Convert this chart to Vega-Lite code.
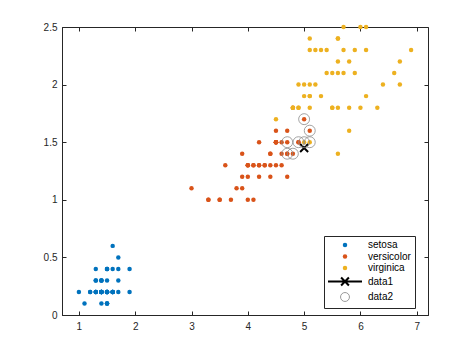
{
  "$schema": "https://vega.github.io/schema/vega-lite/v6.json",
  "autosize": "none",
  "width": 366,
  "height": 288,
  "padding": {"left": 62, "top": 27, "right": 46, "bottom": 40},
  "background": "white",
  "config": {
    "view": {"stroke": "#262626", "strokeWidth": 1},
    "font": "Liberation Sans",
    "axis": {
      "domainColor": "#262626", "tickColor": "#262626", "labelColor": "#262626",
      "labelFontSize": 10, "labelFont": "Liberation Sans", "grid": false,
      "tickSize": -4, "title": null
    },
    "legend": {
      "title": null, "orient": "none", "legendX": 262, "legendY": 209,
      "padding": 4, "strokeColor": "#262626", "fillColor": "white",
      "labelFontSize": 10, "labelFont": "Liberation Sans", "labelColor": "#000000",
      "symbolSize": 20, "symbolOffset": 12, "labelOffset": 18, "rowPadding": 1.5,
      "symbolStrokeWidth": 1, "symbolOpacity": 1
    }
  },
  "datasets": {
    "iris": [
      {"pl":1.4,"pw":0.2,"g":"setosa"},{"pl":1.4,"pw":0.2,"g":"setosa"},{"pl":1.3,"pw":0.2,"g":"setosa"},{"pl":1.5,"pw":0.2,"g":"setosa"},{"pl":1.4,"pw":0.2,"g":"setosa"},
      {"pl":1.7,"pw":0.4,"g":"setosa"},{"pl":1.4,"pw":0.3,"g":"setosa"},{"pl":1.5,"pw":0.2,"g":"setosa"},{"pl":1.4,"pw":0.2,"g":"setosa"},{"pl":1.5,"pw":0.1,"g":"setosa"},
      {"pl":1.5,"pw":0.2,"g":"setosa"},{"pl":1.6,"pw":0.2,"g":"setosa"},{"pl":1.4,"pw":0.1,"g":"setosa"},{"pl":1.1,"pw":0.1,"g":"setosa"},{"pl":1.2,"pw":0.2,"g":"setosa"},
      {"pl":1.5,"pw":0.4,"g":"setosa"},{"pl":1.3,"pw":0.4,"g":"setosa"},{"pl":1.4,"pw":0.3,"g":"setosa"},{"pl":1.7,"pw":0.3,"g":"setosa"},{"pl":1.5,"pw":0.3,"g":"setosa"},
      {"pl":1.7,"pw":0.2,"g":"setosa"},{"pl":1.5,"pw":0.4,"g":"setosa"},{"pl":1.0,"pw":0.2,"g":"setosa"},{"pl":1.7,"pw":0.5,"g":"setosa"},{"pl":1.9,"pw":0.2,"g":"setosa"},
      {"pl":1.6,"pw":0.2,"g":"setosa"},{"pl":1.6,"pw":0.4,"g":"setosa"},{"pl":1.5,"pw":0.2,"g":"setosa"},{"pl":1.4,"pw":0.2,"g":"setosa"},{"pl":1.6,"pw":0.2,"g":"setosa"},
      {"pl":1.6,"pw":0.2,"g":"setosa"},{"pl":1.5,"pw":0.4,"g":"setosa"},{"pl":1.5,"pw":0.1,"g":"setosa"},{"pl":1.4,"pw":0.2,"g":"setosa"},{"pl":1.5,"pw":0.2,"g":"setosa"},
      {"pl":1.2,"pw":0.2,"g":"setosa"},{"pl":1.3,"pw":0.2,"g":"setosa"},{"pl":1.5,"pw":0.1,"g":"setosa"},{"pl":1.3,"pw":0.2,"g":"setosa"},{"pl":1.5,"pw":0.2,"g":"setosa"},
      {"pl":1.3,"pw":0.3,"g":"setosa"},{"pl":1.3,"pw":0.3,"g":"setosa"},{"pl":1.3,"pw":0.2,"g":"setosa"},{"pl":1.6,"pw":0.6,"g":"setosa"},{"pl":1.9,"pw":0.4,"g":"setosa"},
      {"pl":1.4,"pw":0.3,"g":"setosa"},{"pl":1.6,"pw":0.2,"g":"setosa"},{"pl":1.4,"pw":0.2,"g":"setosa"},{"pl":1.5,"pw":0.2,"g":"setosa"},{"pl":1.4,"pw":0.2,"g":"setosa"},
      {"pl":4.7,"pw":1.4,"g":"versicolor"},{"pl":4.5,"pw":1.5,"g":"versicolor"},{"pl":4.9,"pw":1.5,"g":"versicolor"},{"pl":4.0,"pw":1.3,"g":"versicolor"},{"pl":4.6,"pw":1.5,"g":"versicolor"},
      {"pl":4.5,"pw":1.3,"g":"versicolor"},{"pl":4.7,"pw":1.6,"g":"versicolor"},{"pl":3.3,"pw":1.0,"g":"versicolor"},{"pl":4.6,"pw":1.3,"g":"versicolor"},{"pl":3.9,"pw":1.4,"g":"versicolor"},
      {"pl":3.5,"pw":1.0,"g":"versicolor"},{"pl":4.2,"pw":1.5,"g":"versicolor"},{"pl":4.0,"pw":1.0,"g":"versicolor"},{"pl":4.7,"pw":1.4,"g":"versicolor"},{"pl":3.6,"pw":1.3,"g":"versicolor"},
      {"pl":4.4,"pw":1.4,"g":"versicolor"},{"pl":4.5,"pw":1.5,"g":"versicolor"},{"pl":4.1,"pw":1.0,"g":"versicolor"},{"pl":4.5,"pw":1.5,"g":"versicolor"},{"pl":3.9,"pw":1.1,"g":"versicolor"},
      {"pl":4.8,"pw":1.8,"g":"versicolor"},{"pl":4.0,"pw":1.3,"g":"versicolor"},{"pl":4.9,"pw":1.5,"g":"versicolor"},{"pl":4.7,"pw":1.2,"g":"versicolor"},{"pl":4.3,"pw":1.3,"g":"versicolor"},
      {"pl":4.4,"pw":1.4,"g":"versicolor"},{"pl":4.8,"pw":1.4,"g":"versicolor"},{"pl":5.0,"pw":1.7,"g":"versicolor"},{"pl":4.5,"pw":1.5,"g":"versicolor"},{"pl":3.5,"pw":1.0,"g":"versicolor"},
      {"pl":3.8,"pw":1.1,"g":"versicolor"},{"pl":3.7,"pw":1.0,"g":"versicolor"},{"pl":3.9,"pw":1.2,"g":"versicolor"},{"pl":5.1,"pw":1.6,"g":"versicolor"},{"pl":4.5,"pw":1.5,"g":"versicolor"},
      {"pl":4.5,"pw":1.6,"g":"versicolor"},{"pl":4.7,"pw":1.5,"g":"versicolor"},{"pl":4.4,"pw":1.3,"g":"versicolor"},{"pl":4.1,"pw":1.3,"g":"versicolor"},{"pl":4.0,"pw":1.3,"g":"versicolor"},
      {"pl":4.4,"pw":1.2,"g":"versicolor"},{"pl":4.6,"pw":1.4,"g":"versicolor"},{"pl":4.0,"pw":1.2,"g":"versicolor"},{"pl":3.3,"pw":1.0,"g":"versicolor"},{"pl":4.2,"pw":1.3,"g":"versicolor"},
      {"pl":4.2,"pw":1.2,"g":"versicolor"},{"pl":4.2,"pw":1.3,"g":"versicolor"},{"pl":4.3,"pw":1.3,"g":"versicolor"},{"pl":3.0,"pw":1.1,"g":"versicolor"},{"pl":4.1,"pw":1.3,"g":"versicolor"},
      {"pl":6.0,"pw":2.5,"g":"virginica"},{"pl":5.1,"pw":1.9,"g":"virginica"},{"pl":5.9,"pw":2.1,"g":"virginica"},{"pl":5.6,"pw":1.8,"g":"virginica"},{"pl":5.8,"pw":2.2,"g":"virginica"},
      {"pl":6.6,"pw":2.1,"g":"virginica"},{"pl":4.5,"pw":1.7,"g":"virginica"},{"pl":6.3,"pw":1.8,"g":"virginica"},{"pl":5.8,"pw":1.8,"g":"virginica"},{"pl":6.1,"pw":2.5,"g":"virginica"},
      {"pl":5.1,"pw":2.0,"g":"virginica"},{"pl":5.3,"pw":1.9,"g":"virginica"},{"pl":5.5,"pw":2.1,"g":"virginica"},{"pl":5.0,"pw":2.0,"g":"virginica"},{"pl":5.1,"pw":2.4,"g":"virginica"},
      {"pl":5.3,"pw":2.3,"g":"virginica"},{"pl":5.5,"pw":1.8,"g":"virginica"},{"pl":6.7,"pw":2.2,"g":"virginica"},{"pl":6.9,"pw":2.3,"g":"virginica"},{"pl":5.0,"pw":1.5,"g":"virginica"},
      {"pl":5.7,"pw":2.3,"g":"virginica"},{"pl":4.9,"pw":2.0,"g":"virginica"},{"pl":6.7,"pw":2.0,"g":"virginica"},{"pl":4.9,"pw":1.8,"g":"virginica"},{"pl":5.7,"pw":2.1,"g":"virginica"},
      {"pl":6.0,"pw":1.8,"g":"virginica"},{"pl":4.8,"pw":1.8,"g":"virginica"},{"pl":4.9,"pw":1.8,"g":"virginica"},{"pl":5.6,"pw":2.1,"g":"virginica"},{"pl":5.8,"pw":1.6,"g":"virginica"},
      {"pl":6.1,"pw":1.9,"g":"virginica"},{"pl":6.4,"pw":2.0,"g":"virginica"},{"pl":5.6,"pw":2.2,"g":"virginica"},{"pl":5.1,"pw":1.5,"g":"virginica"},{"pl":5.6,"pw":1.4,"g":"virginica"},
      {"pl":6.1,"pw":2.3,"g":"virginica"},{"pl":5.6,"pw":2.4,"g":"virginica"},{"pl":5.5,"pw":1.8,"g":"virginica"},{"pl":4.8,"pw":1.8,"g":"virginica"},{"pl":5.4,"pw":2.1,"g":"virginica"},
      {"pl":5.6,"pw":2.4,"g":"virginica"},{"pl":5.1,"pw":2.3,"g":"virginica"},{"pl":5.1,"pw":1.9,"g":"virginica"},{"pl":5.9,"pw":2.3,"g":"virginica"},{"pl":5.7,"pw":2.5,"g":"virginica"},
      {"pl":5.2,"pw":2.3,"g":"virginica"},{"pl":5.0,"pw":1.9,"g":"virginica"},{"pl":5.2,"pw":2.0,"g":"virginica"},{"pl":5.4,"pw":2.3,"g":"virginica"},{"pl":5.1,"pw":1.8,"g":"virginica"}
    ],
    "query": [{"pl":5.0,"pw":1.45}],
    "nn": [
      {"pl":5.0,"pw":1.7},{"pl":5.1,"pw":1.6},{"pl":4.7,"pw":1.5},{"pl":4.9,"pw":1.5},{"pl":5.0,"pw":1.5},
      {"pl":5.1,"pw":1.5},{"pl":4.7,"pw":1.4},{"pl":4.8,"pw":1.4}
    ]
  },
  "resolve": {"axis": {"x": "independent", "y": "independent"}},
  "layer": [
    {
      "data": {"name": "iris"},
      "mark": {"type": "point", "filled": true, "size": 20, "opacity": 1, "strokeWidth": 1},
      "encoding": {
        "x": {"field": "pl", "type": "quantitative", "scale": {"domain": [0.7, 7.2], "nice": false, "zero": false},
              "axis": {"orient": "bottom", "values": [1,2,3,4,5,6,7], "labelPadding": 10}},
        "y": {"field": "pw", "type": "quantitative", "scale": {"domain": [0, 2.5], "nice": false, "zero": false},
              "axis": {"orient": "left", "values": [0,0.5,1,1.5,2,2.5], "format": ".1~f", "labelPadding": 9}},
        "fill": {
          "field": "g", "type": "nominal",
          "scale": {"domain": ["setosa","versicolor","virginica","data1","data2"],
                    "range": ["#0072BD","#D95319","#EDB120","#000000","transparent"]}
        },
        "stroke": {
          "field": "g", "type": "nominal",
          "scale": {"domain": ["setosa","versicolor","virginica","data1","data2"],
                    "range": ["transparent","transparent","transparent","transparent","#9a9a9a"]}
        },
        "shape": {
          "field": "g", "type": "nominal",
          "scale": {"domain": ["setosa","versicolor","virginica","data1","data2"],
                    "range": ["circle","circle","circle",
                              "M-7.6,-0.45H7.6V0.45H-7.6Z M-2.07,-1.43L-1.43,-2.07L2.07,1.43L1.43,2.07Z M-2.07,1.43L1.43,-2.07L2.07,-1.43L-1.43,2.07Z",
                              "M-2.0,0A2.0,2.0,0,1,1,2.0,0A2.0,2.0,0,1,1,-2.0,0Z"]}
        }
      }
    },
    {
      "data": {"name": "query"},
      "mark": {"type": "point", "filled": false, "shape": "M-1,-1L1,1M-1,1L1,-1", "size": 64, "stroke": "#000000", "strokeWidth": 2, "opacity": 1},
      "encoding": {
        "x": {"field": "pl", "type": "quantitative", "axis": {"orient": "top", "values": [1,2,3,4,5,6,7], "labels": false, "domain": false}},
        "y": {"field": "pw", "type": "quantitative", "axis": {"orient": "right", "values": [0,0.5,1,1.5,2,2.5], "labels": false, "domain": false}}
      }
    },
    {
      "data": {"name": "nn"},
      "mark": {"type": "point", "filled": false, "shape": "circle", "size": 120, "stroke": "#8c8c8c", "strokeWidth": 0.8, "opacity": 1},
      "encoding": {
        "x": {"field": "pl", "type": "quantitative", "axis": null},
        "y": {"field": "pw", "type": "quantitative", "axis": null}
      }
    }
  ]
}
